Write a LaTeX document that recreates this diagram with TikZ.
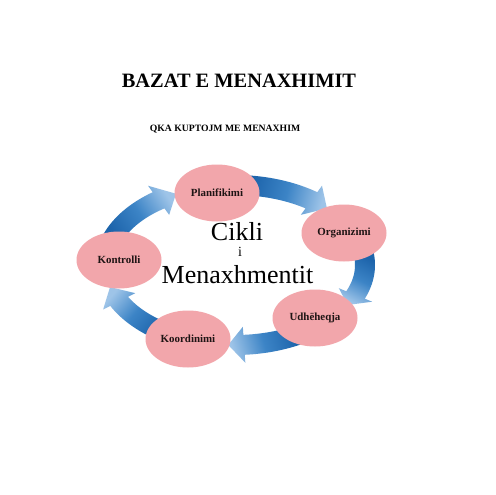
\documentclass[tikz,border=0pt]{standalone}
\usepackage{fontspec}
\setmainfont{Liberation Serif}
\usetikzlibrary{shapes.geometric}
\definecolor{pinkfill}{HTML}{F2A6AB}
\definecolor{arrowdark}{HTML}{1D64AB}
\definecolor{arrowmid}{HTML}{3C84C6}
\definecolor{arrowlight}{HTML}{9EC4E8}
\definecolor{labeltext}{HTML}{1E1414}
\tikzset{
  phase/.style={ellipse, fill=pinkfill, minimum width=85pt, minimum height=57pt,
    inner sep=0pt, font=\fontsize{10.9}{12}\selectfont\bfseries, text=labeltext},
}
\newcommand{\cycarrow}[4]{%
  \shade[top color=arrowlight, bottom color=arrowdark, middle color=arrowmid, shading angle=#4]
    plot[domain=#1:#2, samples=30] ({140*cos(\x)},{90*sin(\x)})
    -- ({148*cos(#2)},{98*sin(#2)})
    -- ({130*cos(#3)},{80*sin(#3)})
    -- ({112*cos(#2)},{62*sin(#2)})
    -- plot[domain=#2:#1, samples=30] ({120*cos(\x)},{70*sin(\x)})
    -- cycle;}
\begin{document}
\begin{tikzpicture}[x=1pt, y=-1pt]
  \useasboundingbox[fill=white] (0,0) rectangle (495,495);
  % titles
  \node[anchor=base, font=\fontsize{20.4}{24}\selectfont\bfseries] (title) at (239,88) {BAZAT E MENAXHIMIT};
  \node[anchor=base, font=\fontsize{9.7}{11}\selectfont\bfseries] (subtitle) at (225,131) {QKA KUPTOJM ME MENAXHIM};
  % cycle centre
  \coordinate (cyc) at (235,265);
  % arrows
  \begin{scope}[shift={(cyc)}]
    \cycarrow{-85}{-54}{-45}{-104}
    \cycarrow{-8}{22}{30}{152}
    \cycarrow{62}{86}{93}{106}
    \cycarrow{125}{153}{164}{50}
    \cycarrow{200}{234}{243}{-57}
  \end{scope}
  % phases
  \node[phase] (plan) at (217,193) {Planifikimi};
  \node[phase] (org) at (344,233) {Organizimi};
  \node[phase] (udh) at (315,318) {Udhëheqja};
  \node[phase] (koord) at (188,339) {Koordinimi};
  \node[phase] (kontr) at (119,260) {Kontrolli};
  % centre text
  \node[anchor=base, font=\fontsize{26}{30}\selectfont] (cikli) at (237,240) {Cikli};
  \node[anchor=base, font=\fontsize{14}{16}\selectfont] (i) at (240,256) {i};
  \node[anchor=base, font=\fontsize{26}{30}\selectfont] (menax) at (237.5,283) {Menaxhmentit};
\end{tikzpicture}
\end{document}
